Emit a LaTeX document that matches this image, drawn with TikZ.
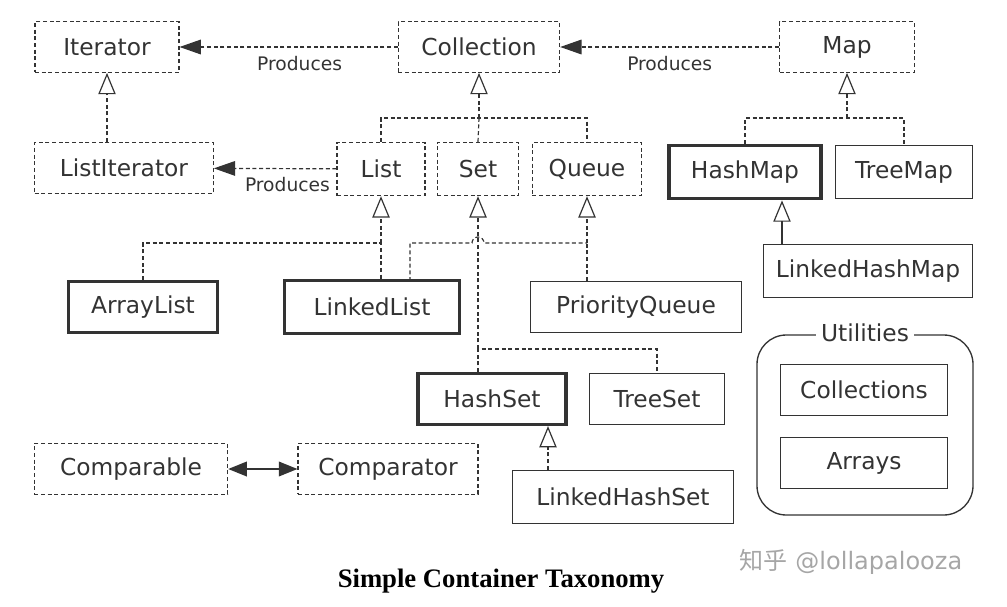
\documentclass[tikz,border=0pt]{standalone}
\usepackage{fontspec}
\setmainfont{DejaVu Sans}
\newfontfamily\cjk{Noto Sans CJK SC}
\usetikzlibrary{arrows.meta}
\begin{document}
\begin{tikzpicture}[x=0.75pt,y=-0.75pt,
  box/.style={draw=black!80,minimum height=38pt,inner sep=0pt,font=\fontsize{17.5}{19}\selectfont,text=black!80},
  ifc/.style={box,dashed,line width=0.8pt,dash pattern=on 3pt off 2pt},
  cls/.style={box,line width=0.9pt},
  main/.style={box,line width=2.6pt},
  dl/.style={draw=black!80,line width=0.9pt,dash pattern=on 3pt off 2pt},
  inh/.style={-{Triangle[open,length=16pt,width=13pt,line width=0.9pt]},line width=0.9pt},
  prod/.style={-{Triangle[length=16pt,width=11pt]}},
  lbl/.style={font=\fontsize{14}{16}\selectfont,text=black!80}]
\useasboundingbox (0,0) rectangle (1007,607);
\node[ifc,minimum width=108pt] (it) at (107,47) {Iterator};
\node[ifc,minimum width=121pt] (col) at (479,47) {Collection};
\node[ifc,minimum width=101pt] (map) at (847,47) {Map};
\node[ifc,minimum width=134pt] (lit) at (124,168) {ListIterator};
\node[ifc,minimum width=66pt,minimum height=40pt] (list) at (381,169) {List};
\node[ifc,minimum width=61pt,minimum height=40pt] (set) at (478,169) {Set};
\node[ifc,minimum width=82pt,minimum height=40pt] (queue) at (587,169) {Queue};
\node[main,minimum width=114pt,minimum height=40pt] (hm) at (745,172) {HashMap};
\node[cls,minimum width=103pt,minimum height=40pt] (tm) at (904,172) {TreeMap};
\node[cls,minimum width=157pt,minimum height=40pt] (lhm) at (868,271) {LinkedHashMap};
\node[main,minimum width=112pt] (al) at (143,307) {ArrayList};
\node[main,minimum width=131pt,minimum height=40pt] (ll) at (372,307) {LinkedList};
\node[cls,minimum width=158pt] (pq) at (636,307) {PriorityQueue};
\node[main,minimum width=111pt] (hs) at (492,399) {HashSet};
\node[cls,minimum width=101pt] (ts) at (657,399) {TreeSet};
\node[cls,minimum width=166pt,minimum height=40pt] (lhs) at (623,497) {LinkedHashSet};
\node[ifc,minimum width=145pt] (cmpb) at (131,469) {Comparable};
\node[ifc,minimum width=135pt] (cmpt) at (388,469) {Comparator};
\draw[draw=black!80,line width=1pt,rounded corners=22pt] (757,335) rectangle (973,515);
\node[fill=white,inner xsep=4pt,font=\fontsize{17.5}{19}\selectfont,text=black!80] (ut) at (865,333) {Utilities};
\node[cls,minimum width=125pt] (cols) at (864,390) {Collections};
\node[cls,minimum width=125pt] (arr) at (864,463) {Arrays};
% produces
\draw[dl,prod] (col) -- node[lbl,below=3pt,pos=0.45] {Produces} (it);
\draw[dl,prod] (map) -- node[lbl,below=3pt] {Produces} (col);
\draw[dl,prod] (list) -- node[lbl,below=3pt,pos=0.4] {Produces} (lit);
\draw[dl,inh] (lit.north-|it) -- (it.south);
% collection hierarchy
\coordinate (cj) at (479,118);
\draw[dl] (list.north) |- (cj) -| (queue.north);
\draw[dl] (set.north) -- (cj);
\draw[dl,inh] (cj) -- (col.south);
\coordinate (mj) at (847,118);
\draw[dl] (hm.north) |- (mj) -| (tm.north);
\draw[dl,inh] (mj) -- (map.south);
% List
\coordinate (lj) at (381,243);
\draw[dl] (al.north) |- (lj) -- (ll.north-|lj);
\draw[dl,inh] (lj) -- (list.south);
% LinkedList -> Queue
\coordinate (qj) at (587,243);
\draw[dl] (410,281) coordinate (llq) -- (410,243) -- (472,243) arc[start angle=180,end angle=360,radius=6] -- (qj);
\draw[dl] (pq.north-|qj) -- (qj);
\draw[dl,inh] (qj) -- (queue.south);
% Set
\coordinate (sj) at (478,349);
\draw[dl] (hs.north-|sj) -- (sj) -| (ts.north);
\draw[dl,inh] (sj) -- (set.south);
\draw[dl,inh] (lhs.north-|548,0) -- (hs.south-|548,0);
\draw[line width=1pt,draw=black!80,inh] (lhm.north-|782,0) -- (hm.south-|782,0);
\draw[line width=1.2pt,draw=black!80,{Triangle[length=14pt,width=11pt]}-{Triangle[length=14pt,width=11pt]}] (cmpb) -- (cmpt);
\node[font=\bfseries\fontspec{Liberation Serif}\fontsize{20}{22}\selectfont] (cap) at (501,581) {Simple Container Taxonomy};
\node[text=black!35,font=\fontsize{18}{20}\selectfont] (wm) at (851,562) {{\cjk 知乎} @lollapalooza};
\end{tikzpicture}
\end{document}
